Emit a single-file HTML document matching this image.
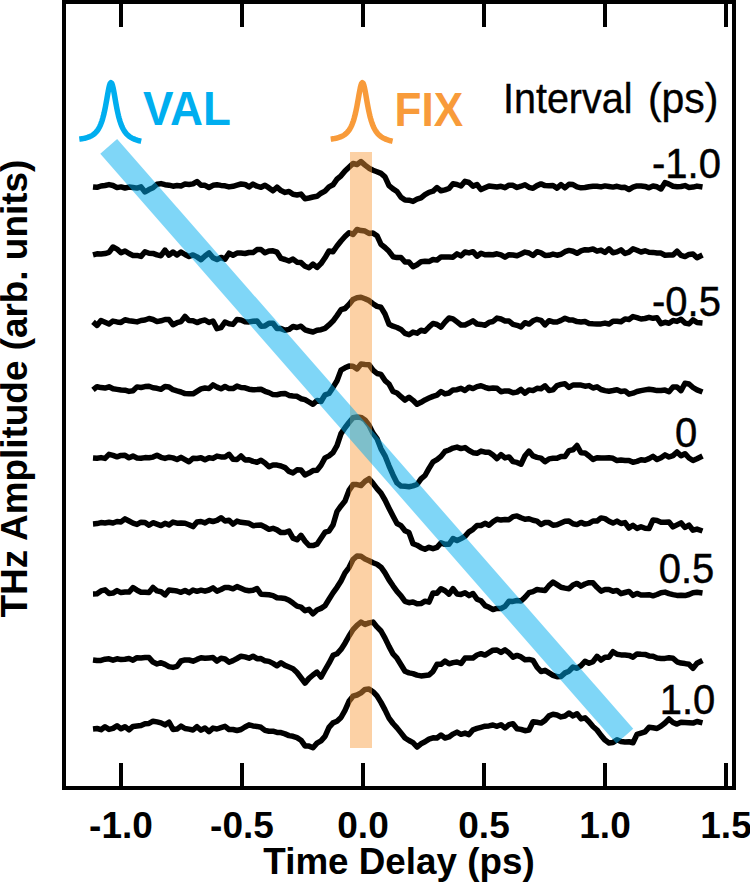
<!DOCTYPE html>
<html><head><meta charset="utf-8"><style>
html,body{margin:0;padding:0;background:#fff;}
svg{display:block;}
text{font-family:"Liberation Sans",sans-serif;}
</style></head><body>
<svg width="750" height="882" viewBox="0 0 750 882">
<rect width="750" height="882" fill="#fff"/>
<g fill="none" stroke="#000" stroke-width="5.5" stroke-linejoin="round" stroke-linecap="butt">
<path d="M93.0,186.9L97.0,187.3L101.0,186.0L105.0,185.5L109.0,184.6L113.0,185.5L117.0,187.6L121.0,186.9L125.0,188.0L129.0,187.1L133.0,187.5L137.0,188.1L141.0,186.9L145.0,192.0L149.0,189.6L153.0,187.8L157.0,184.3L161.0,183.6L165.0,184.7L169.0,185.2L173.0,186.2L177.0,185.5L181.0,186.0L185.0,184.1L189.0,184.5L193.0,183.9L197.0,181.5L201.0,185.2L205.0,185.3L209.0,187.5L213.0,185.3L217.0,184.8L221.0,185.4L225.0,185.8L229.0,186.9L233.0,186.3L237.0,185.1L241.0,184.0L245.0,184.4L249.0,186.9L253.0,184.1L257.0,186.2L261.0,187.3L265.0,185.2L269.0,187.9L273.0,190.8L277.0,187.2L281.0,190.6L285.0,192.4L289.0,191.5L293.0,194.3L297.0,195.0L301.0,194.1L305.0,198.7L309.0,198.0L313.0,197.0L317.0,196.3L321.0,193.2L325.0,191.1L329.0,186.9L333.0,184.8L337.0,179.2L341.0,175.8L345.0,170.9L349.0,167.2L353.0,163.4L357.0,164.5L361.0,161.6L365.0,165.1L369.0,168.2L373.0,170.2L377.0,171.7L381.0,173.4L385.0,176.8L389.0,185.6L393.0,188.9L397.0,191.5L401.0,197.3L405.0,200.1L409.0,200.2L413.0,201.4L417.0,199.2L421.0,197.9L425.0,194.6L429.0,192.3L433.0,191.2L437.0,187.5L441.0,190.8L445.0,189.9L449.0,188.5L453.0,183.8L457.0,184.5L461.0,186.0L465.0,181.3L469.0,182.5L473.0,186.1L477.0,184.5L481.0,189.6L485.0,187.8L489.0,186.0L493.0,186.5L497.0,187.0L501.0,186.3L505.0,187.7L509.0,185.2L513.0,185.3L517.0,187.5L521.0,186.2L525.0,184.7L529.0,187.3L533.0,188.3L537.0,185.6L541.0,183.9L545.0,185.6L549.0,185.7L553.0,185.5L557.0,188.1L561.0,184.7L565.0,187.8L569.0,184.3L573.0,184.6L577.0,186.8L581.0,187.8L585.0,187.5L589.0,186.7L593.0,186.3L597.0,186.3L601.0,186.9L605.0,185.9L609.0,186.5L613.0,187.1L617.0,186.3L621.0,187.4L625.0,187.3L629.0,189.5L633.0,187.2L637.0,185.9L641.0,185.9L645.0,186.4L649.0,187.8L653.0,186.0L657.0,186.8L661.0,189.0L665.0,182.6L669.0,184.1L673.0,186.2L677.0,186.7L681.0,186.5L685.0,185.6L689.0,187.4L693.0,187.1L697.0,186.1L702.5,187.0"/>
<path d="M93.0,254.9L97.0,253.8L101.0,254.1L105.0,253.6L109.0,252.4L113.0,247.0L117.0,249.1L121.0,252.8L125.0,251.0L129.0,253.5L133.0,255.4L137.0,255.4L141.0,256.4L145.0,251.7L149.0,253.2L153.0,253.4L157.0,254.9L161.0,255.7L165.0,250.1L169.0,255.2L173.0,252.0L177.0,254.9L181.0,252.1L185.0,254.5L189.0,256.5L193.0,254.9L197.0,256.9L201.0,259.6L205.0,256.0L209.0,252.9L213.0,257.7L217.0,259.6L221.0,257.4L225.0,259.1L229.0,253.2L233.0,255.2L237.0,253.1L241.0,253.1L245.0,253.5L249.0,252.5L253.0,252.6L257.0,249.6L261.0,249.5L265.0,252.8L269.0,250.9L273.0,250.8L277.0,252.2L281.0,258.4L285.0,259.5L289.0,261.0L293.0,259.1L297.0,262.2L301.0,262.6L305.0,266.2L309.0,267.7L313.0,264.1L317.0,267.4L321.0,263.6L325.0,257.8L329.0,251.0L333.0,251.8L337.0,246.0L341.0,241.0L345.0,236.5L349.0,232.8L353.0,234.4L357.0,229.5L361.0,230.6L365.0,231.1L369.0,233.4L373.0,233.1L377.0,235.7L381.0,244.3L385.0,247.5L389.0,251.3L393.0,256.7L397.0,257.6L401.0,257.5L405.0,262.0L409.0,262.1L413.0,266.7L417.0,264.7L421.0,261.7L425.0,261.2L429.0,261.6L433.0,259.5L437.0,260.1L441.0,256.9L445.0,257.0L449.0,256.9L453.0,257.2L457.0,253.9L461.0,255.9L465.0,252.0L469.0,252.9L473.0,251.7L477.0,256.2L481.0,253.2L485.0,254.8L489.0,254.6L493.0,254.7L497.0,253.8L501.0,254.8L505.0,257.1L509.0,254.7L513.0,255.0L517.0,255.7L521.0,253.9L525.0,252.1L529.0,253.0L533.0,255.5L537.0,251.7L541.0,252.9L545.0,255.4L549.0,255.3L553.0,254.1L557.0,255.2L561.0,254.3L565.0,251.7L569.0,250.4L573.0,251.3L577.0,253.3L581.0,250.9L585.0,249.7L589.0,249.9L593.0,249.0L597.0,251.2L601.0,250.1L605.0,252.5L609.0,248.8L613.0,252.7L617.0,251.9L621.0,249.9L625.0,253.5L629.0,252.1L633.0,248.8L637.0,250.3L641.0,252.0L645.0,250.8L649.0,252.3L653.0,252.4L657.0,253.0L661.0,253.1L665.0,255.2L669.0,255.0L673.0,254.9L677.0,251.2L681.0,255.4L685.0,256.6L689.0,254.4L693.0,254.0L697.0,257.7L702.5,255.0"/>
<path d="M93.0,321.9L97.0,325.4L101.0,320.5L105.0,322.2L109.0,324.0L113.0,321.1L117.0,321.9L121.0,322.4L125.0,319.8L129.0,320.7L133.0,321.3L137.0,321.9L141.0,320.5L145.0,320.0L149.0,318.5L153.0,319.5L157.0,321.6L161.0,320.8L165.0,319.5L169.0,319.6L173.0,324.7L177.0,322.7L181.0,321.6L185.0,316.5L189.0,320.6L193.0,320.8L197.0,322.6L201.0,320.9L205.0,320.0L209.0,322.5L213.0,321.0L217.0,328.6L221.0,327.6L225.0,322.0L229.0,323.7L233.0,324.4L237.0,319.4L241.0,319.9L245.0,321.7L249.0,321.9L253.0,321.3L257.0,320.9L261.0,326.2L265.0,325.9L269.0,323.2L273.0,323.3L277.0,328.5L281.0,328.6L285.0,330.3L289.0,329.4L293.0,326.5L297.0,327.5L301.0,326.2L305.0,329.8L309.0,331.0L313.0,332.0L317.0,330.2L321.0,329.7L325.0,328.4L329.0,324.9L333.0,321.1L337.0,315.6L341.0,309.7L345.0,308.5L349.0,304.4L353.0,299.5L357.0,297.7L361.0,297.2L365.0,298.7L369.0,300.6L373.0,303.7L377.0,306.4L381.0,307.3L385.0,314.0L389.0,324.3L393.0,326.2L397.0,327.5L401.0,329.4L405.0,333.4L409.0,334.7L413.0,332.1L417.0,333.2L421.0,330.3L425.0,331.2L429.0,327.1L433.0,323.4L437.0,324.5L441.0,327.1L445.0,322.1L449.0,318.0L453.0,318.9L457.0,321.9L461.0,325.0L465.0,325.0L469.0,323.1L473.0,320.8L477.0,324.0L481.0,324.4L485.0,325.3L489.0,322.4L493.0,321.5L497.0,318.1L501.0,319.0L505.0,320.9L509.0,321.0L513.0,324.3L517.0,325.3L521.0,326.9L525.0,322.7L529.0,324.1L533.0,320.8L537.0,319.3L541.0,320.3L545.0,324.9L549.0,320.7L553.0,321.9L557.0,322.0L561.0,320.4L565.0,318.3L569.0,319.9L573.0,320.1L577.0,321.6L581.0,322.0L585.0,321.5L589.0,323.4L593.0,323.8L597.0,324.0L601.0,323.9L605.0,323.1L609.0,324.0L613.0,321.2L617.0,321.2L621.0,321.7L625.0,318.9L629.0,319.5L633.0,316.6L637.0,317.6L641.0,319.0L645.0,318.5L649.0,317.3L653.0,318.3L657.0,317.8L661.0,323.6L665.0,322.3L669.0,323.2L673.0,320.5L677.0,321.4L681.0,319.3L685.0,323.1L689.0,323.9L693.0,319.9L697.0,322.5L702.5,323.0"/>
<path d="M93.0,389.9L97.0,386.7L101.0,387.6L105.0,388.1L109.0,386.8L113.0,388.8L117.0,389.4L121.0,390.0L125.0,390.2L129.0,391.4L133.0,390.8L137.0,386.9L141.0,387.5L145.0,386.6L149.0,386.3L153.0,387.8L157.0,388.3L161.0,389.3L165.0,386.4L169.0,386.9L173.0,389.7L177.0,390.9L181.0,392.0L185.0,393.6L189.0,393.8L193.0,393.8L197.0,391.3L201.0,388.9L205.0,388.0L209.0,388.6L213.0,384.9L217.0,387.1L221.0,388.8L225.0,386.5L229.0,388.6L233.0,388.6L237.0,386.1L241.0,387.5L245.0,387.8L249.0,389.2L253.0,389.8L257.0,389.6L261.0,389.3L265.0,391.3L269.0,392.6L273.0,394.6L277.0,394.7L281.0,393.8L285.0,393.4L289.0,395.4L293.0,395.9L297.0,396.3L301.0,398.7L305.0,399.6L309.0,402.0L313.0,404.3L317.0,400.5L321.0,401.5L325.0,394.8L329.0,393.5L333.0,387.4L337.0,380.8L341.0,370.1L345.0,367.8L349.0,366.1L353.0,366.2L357.0,368.9L361.0,364.1L365.0,364.5L369.0,364.7L373.0,370.2L377.0,373.5L381.0,374.4L385.0,380.6L389.0,384.0L393.0,391.5L397.0,393.0L401.0,396.7L405.0,400.1L409.0,397.2L413.0,400.3L417.0,404.3L421.0,402.3L425.0,399.9L429.0,398.1L433.0,396.4L437.0,395.1L441.0,391.5L445.0,393.9L449.0,393.0L453.0,389.9L457.0,389.7L461.0,388.3L465.0,390.5L469.0,387.2L473.0,388.6L477.0,386.6L481.0,385.7L485.0,387.3L489.0,388.5L493.0,388.0L497.0,388.2L501.0,391.8L505.0,390.9L509.0,391.1L513.0,392.8L517.0,392.1L521.0,389.4L525.0,393.2L529.0,389.9L533.0,390.6L537.0,388.3L541.0,388.7L545.0,385.8L549.0,390.5L553.0,389.9L557.0,385.6L561.0,384.4L565.0,383.7L569.0,387.4L573.0,385.0L577.0,385.0L581.0,385.1L585.0,386.2L589.0,385.6L593.0,388.0L597.0,386.8L601.0,389.5L605.0,390.6L609.0,391.2L613.0,390.5L617.0,389.7L621.0,391.5L625.0,390.9L629.0,394.2L633.0,393.2L637.0,391.5L641.0,390.6L645.0,389.9L649.0,389.2L653.0,389.8L657.0,390.6L661.0,390.6L665.0,390.1L669.0,391.7L673.0,387.0L677.0,387.0L681.0,390.6L685.0,383.3L689.0,384.0L693.0,387.5L697.0,389.9L702.5,392.0"/>
<path d="M93.0,457.9L97.0,458.2L101.0,457.6L105.0,458.4L109.0,454.3L113.0,455.4L117.0,456.8L121.0,455.4L125.0,455.3L129.0,457.8L133.0,456.1L137.0,457.9L141.0,458.2L145.0,457.6L149.0,457.8L153.0,457.1L157.0,455.2L161.0,457.3L165.0,458.4L169.0,457.2L173.0,457.9L177.0,459.5L181.0,457.3L185.0,459.6L189.0,461.8L193.0,458.2L197.0,458.5L201.0,457.7L205.0,459.8L209.0,457.8L213.0,458.4L217.0,456.1L221.0,456.9L225.0,457.0L229.0,454.3L233.0,459.3L237.0,459.5L241.0,456.0L245.0,459.9L249.0,459.7L253.0,461.4L257.0,462.2L261.0,460.3L265.0,463.0L269.0,466.7L273.0,464.9L277.0,465.1L281.0,466.0L285.0,467.6L289.0,471.4L293.0,472.9L297.0,469.8L301.0,470.0L305.0,474.9L309.0,473.1L313.0,470.6L317.0,470.3L321.0,465.2L325.0,457.9L329.0,455.9L333.0,452.6L337.0,445.7L341.0,433.6L345.0,427.7L349.0,422.5L353.0,417.7L357.0,417.0L361.0,417.4L365.0,420.0L369.0,425.2L373.0,433.2L377.0,438.6L381.0,448.8L385.0,455.8L389.0,465.8L393.0,474.9L397.0,482.9L401.0,486.1L405.0,486.3L409.0,486.7L413.0,485.9L417.0,484.5L421.0,478.9L425.0,475.5L429.0,468.4L433.0,461.9L437.0,459.7L441.0,456.4L445.0,451.4L449.0,450.0L453.0,448.1L457.0,447.1L461.0,448.6L465.0,447.6L469.0,450.5L473.0,452.7L477.0,453.3L481.0,451.1L485.0,452.2L489.0,452.2L493.0,455.0L497.0,458.6L501.0,454.6L505.0,457.9L509.0,456.9L513.0,461.6L517.0,462.4L521.0,464.2L525.0,455.8L529.0,451.1L533.0,455.9L537.0,457.4L541.0,458.1L545.0,461.7L549.0,458.9L553.0,458.3L557.0,458.3L561.0,456.4L565.0,456.5L569.0,450.6L573.0,449.8L577.0,445.5L581.0,452.8L585.0,452.9L589.0,456.0L593.0,459.4L597.0,457.7L601.0,458.1L605.0,458.0L609.0,457.8L613.0,458.3L617.0,460.6L621.0,460.1L625.0,460.4L629.0,460.4L633.0,462.3L637.0,461.4L641.0,459.8L645.0,460.3L649.0,458.6L653.0,456.3L657.0,459.5L661.0,457.7L665.0,454.9L669.0,457.0L673.0,455.6L677.0,452.0L681.0,455.8L685.0,453.7L689.0,458.0L693.0,460.5L697.0,458.7L702.5,456.0"/>
<path d="M93.0,523.9L97.0,523.6L101.0,522.6L105.0,523.0L109.0,522.3L113.0,523.0L117.0,521.5L121.0,521.9L125.0,518.8L129.0,521.0L133.0,523.1L137.0,524.4L141.0,522.2L145.0,522.5L149.0,525.3L153.0,522.7L157.0,524.1L161.0,525.6L165.0,523.3L169.0,524.9L173.0,522.1L177.0,523.2L181.0,522.9L185.0,523.2L189.0,524.7L193.0,526.6L197.0,522.0L201.0,521.5L205.0,522.9L209.0,520.5L213.0,521.5L217.0,520.4L221.0,517.7L225.0,521.0L229.0,520.2L233.0,524.1L237.0,521.1L241.0,522.3L245.0,522.8L249.0,523.3L253.0,525.7L257.0,525.3L261.0,525.1L265.0,527.0L269.0,529.3L273.0,528.3L277.0,529.9L281.0,532.6L285.0,532.5L289.0,531.1L293.0,538.1L297.0,539.8L301.0,535.3L305.0,541.1L309.0,545.5L313.0,545.6L317.0,544.2L321.0,538.2L325.0,532.2L329.0,531.1L333.0,525.0L337.0,511.5L341.0,505.9L345.0,501.0L349.0,490.4L353.0,484.6L357.0,484.6L361.0,485.5L365.0,481.4L369.0,478.7L373.0,483.4L377.0,488.6L381.0,493.1L385.0,500.0L389.0,508.2L393.0,516.0L397.0,523.5L401.0,525.6L405.0,530.8L409.0,532.6L413.0,543.7L417.0,545.2L421.0,547.7L425.0,549.3L429.0,547.3L433.0,548.7L437.0,547.3L441.0,542.9L445.0,544.3L449.0,544.3L453.0,538.5L457.0,540.6L461.0,538.6L465.0,536.4L469.0,531.8L473.0,529.3L477.0,525.6L481.0,525.5L485.0,523.3L489.0,525.3L493.0,521.8L497.0,519.2L501.0,520.1L505.0,519.6L509.0,519.7L513.0,516.6L517.0,515.9L521.0,517.7L525.0,519.2L529.0,518.8L533.0,520.3L537.0,521.1L541.0,524.5L545.0,522.6L549.0,522.6L553.0,525.2L557.0,524.7L561.0,523.0L565.0,521.3L569.0,521.1L573.0,523.7L577.0,524.6L581.0,522.4L585.0,524.1L589.0,523.4L593.0,521.0L597.0,521.1L601.0,517.9L605.0,518.6L609.0,521.2L613.0,523.1L617.0,521.1L621.0,523.5L625.0,522.6L629.0,528.1L633.0,525.3L637.0,528.4L641.0,526.7L645.0,528.2L649.0,528.6L653.0,519.9L657.0,520.5L661.0,522.2L665.0,522.2L669.0,522.0L673.0,526.9L677.0,524.9L681.0,522.9L685.0,527.5L689.0,525.1L693.0,530.2L697.0,529.1L702.5,531.0"/>
<path d="M93.0,593.9L97.0,593.8L101.0,590.9L105.0,589.8L109.0,593.6L113.0,593.1L117.0,590.6L121.0,592.6L125.0,592.1L129.0,592.1L133.0,587.7L137.0,590.2L141.0,592.3L145.0,592.2L149.0,592.4L153.0,587.5L157.0,590.9L161.0,591.7L165.0,594.9L169.0,590.0L173.0,590.4L177.0,591.0L181.0,592.3L185.0,590.5L189.0,592.7L193.0,590.0L197.0,591.3L201.0,590.2L205.0,591.2L209.0,590.0L213.0,587.9L217.0,591.1L221.0,589.5L225.0,587.4L229.0,587.6L233.0,588.8L237.0,586.6L241.0,588.3L245.0,590.0L249.0,590.7L253.0,590.3L257.0,588.5L261.0,594.3L265.0,594.4L269.0,594.8L273.0,595.6L277.0,597.7L281.0,598.1L285.0,598.5L289.0,600.3L293.0,603.1L297.0,606.1L301.0,607.1L305.0,610.7L309.0,609.3L313.0,613.8L317.0,610.0L321.0,608.4L325.0,605.7L329.0,599.3L333.0,592.9L337.0,587.3L341.0,581.0L345.0,572.9L349.0,567.6L353.0,559.6L357.0,555.9L361.0,556.3L365.0,559.0L369.0,560.7L373.0,562.8L377.0,564.3L381.0,567.2L385.0,572.9L389.0,579.9L393.0,585.8L397.0,591.4L401.0,595.8L405.0,601.4L409.0,602.7L413.0,601.9L417.0,603.7L421.0,603.6L425.0,601.2L429.0,602.2L433.0,592.9L437.0,593.2L441.0,588.7L445.0,590.7L449.0,594.2L453.0,588.7L457.0,593.9L461.0,594.4L465.0,592.8L469.0,595.6L473.0,593.5L477.0,599.2L481.0,600.8L485.0,605.6L489.0,607.3L493.0,609.5L497.0,608.4L501.0,608.5L505.0,606.4L509.0,601.3L513.0,601.4L517.0,600.5L521.0,601.0L525.0,597.3L529.0,592.7L533.0,591.6L537.0,589.5L541.0,590.1L545.0,590.6L549.0,585.6L553.0,582.1L557.0,584.6L561.0,587.3L565.0,588.1L569.0,588.7L573.0,585.0L577.0,583.4L581.0,586.1L585.0,584.0L589.0,582.7L593.0,582.8L597.0,587.3L601.0,591.1L605.0,589.5L609.0,589.5L613.0,591.3L617.0,590.4L621.0,593.7L625.0,592.5L629.0,591.4L633.0,595.4L637.0,593.4L641.0,595.0L645.0,595.1L649.0,594.7L653.0,595.8L657.0,594.5L661.0,592.7L665.0,592.1L669.0,593.6L673.0,594.6L677.0,595.4L681.0,595.2L685.0,595.6L689.0,594.5L693.0,592.7L697.0,592.2L702.5,593.0"/>
<path d="M93.0,659.9L97.0,660.4L101.0,660.4L105.0,659.2L109.0,658.8L113.0,660.2L117.0,658.8L121.0,659.6L125.0,659.2L129.0,658.5L133.0,660.2L137.0,657.7L141.0,657.9L145.0,657.5L149.0,657.6L153.0,662.1L157.0,664.0L161.0,662.7L165.0,664.4L169.0,666.6L173.0,667.4L177.0,666.3L181.0,661.0L185.0,659.9L189.0,660.0L193.0,661.2L197.0,659.4L201.0,657.8L205.0,658.3L209.0,657.9L213.0,657.6L217.0,661.1L221.0,658.3L225.0,659.0L229.0,662.2L233.0,660.6L237.0,658.5L241.0,656.2L245.0,656.9L249.0,658.2L253.0,656.2L257.0,658.7L261.0,658.6L265.0,660.8L269.0,661.4L273.0,663.4L277.0,665.8L281.0,662.8L285.0,665.4L289.0,667.0L293.0,668.7L297.0,672.5L301.0,677.7L305.0,683.1L309.0,678.4L313.0,675.0L317.0,672.1L321.0,677.1L325.0,670.0L329.0,663.2L333.0,655.4L337.0,653.8L341.0,649.4L345.0,643.2L349.0,636.0L353.0,629.6L357.0,625.3L361.0,622.0L365.0,624.5L369.0,622.9L373.0,622.1L377.0,626.9L381.0,631.0L385.0,638.1L389.0,646.4L393.0,653.9L397.0,658.2L401.0,664.8L405.0,671.3L409.0,672.9L413.0,673.6L417.0,675.1L421.0,675.9L425.0,675.4L429.0,675.1L433.0,671.4L437.0,664.3L441.0,664.3L445.0,661.1L449.0,663.8L453.0,662.6L457.0,662.0L461.0,663.5L465.0,658.1L469.0,658.0L473.0,657.9L477.0,655.0L481.0,653.7L485.0,655.1L489.0,652.7L493.0,650.2L497.0,650.0L501.0,652.4L505.0,649.8L509.0,652.9L513.0,657.1L517.0,655.4L521.0,656.9L525.0,659.7L529.0,659.4L533.0,660.4L537.0,667.2L541.0,671.5L545.0,670.3L549.0,672.8L553.0,675.3L557.0,676.7L561.0,676.5L565.0,672.9L569.0,671.2L573.0,667.0L577.0,668.3L581.0,665.6L585.0,661.3L589.0,663.3L593.0,661.7L597.0,656.3L601.0,660.1L605.0,657.2L609.0,657.2L613.0,651.7L617.0,654.3L621.0,654.9L625.0,655.0L629.0,655.4L633.0,657.1L637.0,653.9L641.0,654.3L645.0,654.4L649.0,655.9L653.0,656.3L657.0,658.1L661.0,658.4L665.0,658.4L669.0,657.7L673.0,658.2L677.0,661.8L681.0,663.1L685.0,663.6L689.0,664.3L693.0,668.4L697.0,663.3L702.5,660.5"/>
<path d="M93.0,728.9L97.0,728.5L101.0,729.7L105.0,726.7L109.0,729.4L113.0,728.4L117.0,725.7L121.0,728.8L125.0,726.7L129.0,729.8L133.0,726.4L137.0,725.9L141.0,725.5L145.0,723.7L149.0,723.4L153.0,721.2L157.0,721.9L161.0,722.9L165.0,724.9L169.0,722.2L173.0,729.4L177.0,729.1L181.0,726.1L185.0,728.5L189.0,729.1L193.0,730.0L197.0,726.7L201.0,730.2L205.0,728.0L209.0,731.6L213.0,728.1L217.0,729.0L221.0,727.6L225.0,726.3L229.0,729.5L233.0,729.5L237.0,730.5L241.0,729.5L245.0,727.0L249.0,724.8L253.0,725.9L257.0,726.4L261.0,727.3L265.0,730.4L269.0,731.3L273.0,731.2L277.0,732.4L281.0,732.6L285.0,733.9L289.0,735.6L293.0,736.3L297.0,737.6L301.0,740.2L305.0,745.9L309.0,746.1L313.0,747.7L317.0,743.1L321.0,740.8L325.0,736.3L329.0,727.4L333.0,722.9L337.0,721.3L341.0,717.5L345.0,710.4L349.0,701.3L353.0,696.2L357.0,695.0L361.0,692.8L365.0,689.4L369.0,689.1L373.0,691.7L377.0,695.9L381.0,702.4L385.0,709.9L389.0,718.1L393.0,723.5L397.0,727.9L401.0,732.9L405.0,738.0L409.0,740.5L413.0,742.7L417.0,747.0L421.0,743.8L425.0,741.8L429.0,739.1L433.0,737.8L437.0,738.0L441.0,735.1L445.0,738.0L449.0,736.9L453.0,734.1L457.0,732.1L461.0,734.3L465.0,733.1L469.0,734.6L473.0,729.8L477.0,728.4L481.0,727.3L485.0,726.2L489.0,725.9L493.0,725.0L497.0,726.3L501.0,724.7L505.0,728.0L509.0,724.7L513.0,723.7L517.0,728.8L521.0,729.4L525.0,730.7L529.0,730.0L533.0,721.7L537.0,722.3L541.0,723.1L545.0,720.4L549.0,715.9L553.0,714.3L557.0,715.0L561.0,716.9L565.0,716.0L569.0,713.1L573.0,715.9L577.0,713.8L581.0,718.9L585.0,717.8L589.0,721.7L593.0,726.5L597.0,730.0L601.0,735.4L605.0,740.1L609.0,743.0L613.0,742.6L617.0,739.8L621.0,741.5L625.0,742.0L629.0,741.8L633.0,742.7L637.0,734.4L641.0,733.1L645.0,731.8L649.0,727.3L653.0,727.8L657.0,728.5L661.0,726.1L665.0,723.0L669.0,719.0L673.0,722.5L677.0,724.1L681.0,722.3L685.0,722.5L689.0,722.7L693.0,723.1L697.0,721.5L702.5,722.9"/>
</g>
<rect x="350" y="152" width="22" height="596" fill="#F89B3A" fill-opacity="0.46"/>
<rect x="0" y="-11.2" width="783.8" height="22.4" transform="translate(108.7 146.3) rotate(48.818)" fill="#00AEEF" fill-opacity="0.5"/>
<g stroke="#000" stroke-width="4" fill="none">
<rect x="64" y="2" width="670" height="786"/>
<line x1="121" y1="4" x2="121" y2="27"/><line x1="121" y1="763" x2="121" y2="786"/><line x1="242" y1="4" x2="242" y2="27"/><line x1="242" y1="763" x2="242" y2="786"/><line x1="363" y1="4" x2="363" y2="27"/><line x1="363" y1="763" x2="363" y2="786"/><line x1="484" y1="4" x2="484" y2="27"/><line x1="484" y1="763" x2="484" y2="786"/><line x1="605" y1="4" x2="605" y2="27"/><line x1="605" y1="763" x2="605" y2="786"/><line x1="726" y1="4" x2="726" y2="27"/><line x1="726" y1="763" x2="726" y2="786"/>
</g>
<g font-weight="bold" font-size="37" text-anchor="middle" fill="#000"><text x="121" y="838">-1.0</text><text x="242" y="838">-0.5</text><text x="363" y="838">0.0</text><text x="484" y="838">0.5</text><text x="605" y="838">1.0</text><text x="726" y="838">1.5</text></g>
<text x="399" y="874" font-weight="bold" font-size="36.8" text-anchor="middle">Time Delay (ps)</text>
<text transform="translate(26.5 388.6) rotate(-90)" font-weight="bold" font-size="36.9" text-anchor="middle">THz Amplitude (arb. units)</text>
<path d="M79.30,139.11 L79.99,139.03 L80.68,138.94 L81.36,138.84 L82.05,138.73 L82.74,138.61 L83.43,138.48 L84.11,138.34 L84.80,138.19 L85.49,138.03 L86.18,137.85 L86.87,137.65 L87.55,137.44 L88.24,137.20 L88.93,136.95 L89.62,136.67 L90.30,136.36 L90.99,136.02 L91.68,135.65 L92.37,135.23 L93.06,134.78 L93.74,134.28 L94.43,133.72 L95.12,133.10 L95.81,132.41 L96.49,131.64 L97.18,130.77 L97.87,129.81 L98.56,128.72 L99.25,127.50 L99.93,126.12 L100.62,124.57 L101.31,122.81 L102.00,120.83 L102.68,118.59 L103.37,116.08 L104.06,113.27 L104.75,110.15 L105.44,106.73 L106.12,103.05 L106.81,99.17 L107.50,95.23 L108.19,91.41 L108.87,87.97 L109.56,85.18 L110.25,83.33 L110.94,82.61 L111.63,83.11 L112.31,84.77 L113.00,87.42 L113.69,90.78 L114.38,94.57 L115.06,98.54 L115.75,102.48 L116.44,106.26 L117.13,109.78 L117.82,113.01 L118.50,115.93 L119.19,118.56 L119.88,120.90 L120.57,122.99 L121.25,124.84 L121.94,126.49 L122.63,127.97 L123.32,129.28 L124.01,130.45 L124.69,131.50 L125.38,132.44 L126.07,133.29 L126.76,134.06 L127.44,134.75 L128.13,135.38 L128.82,135.96 L129.51,136.48 L130.20,136.96 L130.88,137.40 L131.57,137.81 L132.26,138.18 L132.95,138.52 L133.63,138.85 L134.32,139.14 L135.01,139.42 L135.70,139.68 L136.39,139.92 L137.07,140.15 L137.76,140.36 L138.45,140.56 L139.14,140.75 L139.82,140.93 L140.51,141.10 L141.20,141.26" fill="none" stroke="#00AEEF" stroke-width="5.5" stroke-linecap="butt" stroke-linejoin="round"/>
<path d="M330.70,139.11 L331.39,139.03 L332.08,138.94 L332.76,138.84 L333.45,138.73 L334.14,138.61 L334.83,138.48 L335.51,138.34 L336.20,138.19 L336.89,138.03 L337.58,137.85 L338.27,137.65 L338.95,137.44 L339.64,137.20 L340.33,136.95 L341.02,136.67 L341.70,136.36 L342.39,136.02 L343.08,135.65 L343.77,135.23 L344.46,134.78 L345.14,134.28 L345.83,133.72 L346.52,133.10 L347.21,132.41 L347.89,131.64 L348.58,130.77 L349.27,129.81 L349.96,128.72 L350.65,127.50 L351.33,126.12 L352.02,124.57 L352.71,122.81 L353.40,120.83 L354.08,118.59 L354.77,116.08 L355.46,113.27 L356.15,110.15 L356.84,106.73 L357.52,103.05 L358.21,99.17 L358.90,95.23 L359.59,91.41 L360.27,87.97 L360.96,85.18 L361.65,83.33 L362.34,82.61 L363.03,83.11 L363.71,84.77 L364.40,87.42 L365.09,90.78 L365.78,94.57 L366.46,98.54 L367.15,102.48 L367.84,106.26 L368.53,109.78 L369.22,113.01 L369.90,115.93 L370.59,118.56 L371.28,120.90 L371.97,122.99 L372.65,124.84 L373.34,126.49 L374.03,127.97 L374.72,129.28 L375.41,130.45 L376.09,131.50 L376.78,132.44 L377.47,133.29 L378.16,134.06 L378.84,134.75 L379.53,135.38 L380.22,135.96 L380.91,136.48 L381.60,136.96 L382.28,137.40 L382.97,137.81 L383.66,138.18 L384.35,138.52 L385.03,138.85 L385.72,139.14 L386.41,139.42 L387.10,139.68 L387.79,139.92 L388.47,140.15 L389.16,140.36 L389.85,140.56 L390.54,140.75 L391.22,140.93 L391.91,141.10 L392.60,141.26" fill="none" stroke="#F89B3A" stroke-width="5.5" stroke-linecap="butt" stroke-linejoin="round"/>
<text transform="translate(143 125.3) scale(1.015 1.07)" font-weight="bold" font-size="45" fill="#00AEEF">VAL</text>
<text transform="translate(394.5 125.5) scale(0.98 1.08)" font-weight="bold" font-size="45" fill="#F89B3A">FIX</text>
<text transform="translate(503 113) scale(1 1.06)" font-size="39.5" stroke="#000" stroke-width="0.35">Interval</text><text transform="translate(718.5 113) scale(1 1.06)" font-size="41" text-anchor="end" stroke="#000" stroke-width="0.35">(ps)</text>
<g font-size="40" text-anchor="middle" stroke="#000" stroke-width="0.45">
<text transform="translate(686.5 178.4) scale(1 1.045)">-1.0</text>
<text transform="translate(686.5 316) scale(1 1.045)">-0.5</text>
<text transform="translate(686 446.8) scale(1 1.045)">0</text>
<text transform="translate(686.5 582.7) scale(1 1.045)">0.5</text>
<text transform="translate(687.5 714.3) scale(1 1.045)">1.0</text>
</g>
</svg>
</body></html>
